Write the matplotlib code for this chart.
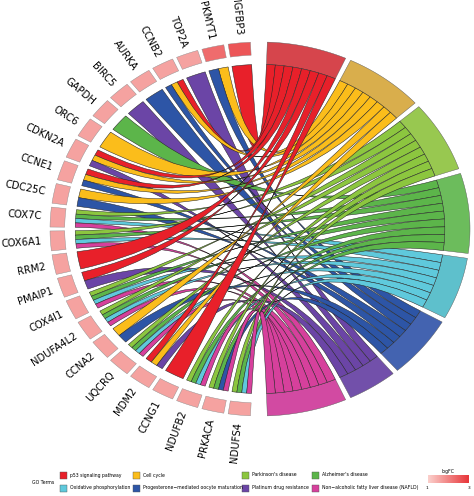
import numpy as np
import matplotlib
matplotlib.use("Agg")
import matplotlib.pyplot as plt
import matplotlib.patches as patches
from matplotlib.path import Path
from matplotlib.colors import LinearSegmentedColormap

genes = ["IGFBP3", "PKMYT1", "TOP2A", "CCNB2", "AURKA", "BIRC5", "GAPDH", "ORC6",
         "CDKN2A", "CCNE1", "CDC25C", "COX7C", "COX6A1", "RRM2", "PMAIP1", "COX4I1",
         "NDUFA4L2", "CCNA2", "UQCRQ", "MDM2", "CCNG1", "NDUFB2", "PRKACA", "NDUFS4"]
logfc = [2.6, 2.3, 1.6, 1.6, 1.6, 1.6, 1.6, 1.6, 1.6, 1.6, 1.6, 1.6, 1.6, 1.6, 1.6,
         1.6, 1.6, 1.6, 1.6, 1.6, 1.6, 1.6, 1.6, 1.6]
terms = ["p53 signaling pathway", "Cell cycle", "Parkinson's disease", "Alzheimer's disease",
         "Oxidative phosphorylation", "Progesterone\u2212mediated oocyte maturation",
         "Platinum drug resistance", "Non\u2212alcoholic fatty liver disease (NAFLD)"]
term_colors = ["#e8202a", "#fbbd1b", "#8cc63f", "#5cb54a", "#5fc9dc", "#2d55a6", "#6b45a6", "#d6409c"]
band_colors = ["#d6454c", "#d9ae4c", "#98c850", "#6cbc5c", "#5ec0cc", "#4363b0", "#7250aa", "#d24aa2"]
# term indices per gene
links = {
    "IGFBP3": [0], "PKMYT1": [1, 5], "TOP2A": [6], "CCNB2": [0, 1, 5], "AURKA": [5],
    "BIRC5": [6], "GAPDH": [3], "ORC6": [1], "CDKN2A": [0, 1, 6], "CCNE1": [0, 1, 5],
    "CDC25C": [1, 5], "COX7C": [2, 3, 4, 7], "COX6A1": [2, 3, 4, 7], "RRM2": [0],
    "PMAIP1": [0, 6], "COX4I1": [2, 3, 4, 7], "NDUFA4L2": [2, 3, 4, 7], "CCNA2": [1, 5],
    "UQCRQ": [2, 3, 4, 7], "MDM2": [0, 1, 6], "CCNG1": [0], "NDUFB2": [2, 3, 4, 7],
    "PRKACA": [2, 3, 5, 7], "NDUFS4": [2, 3, 4, 7],
}

W, H = 474, 496
cx, cy, rx, ry = 260, 229, 210, 187

fig = plt.figure(figsize=(W / 100, H / 100), dpi=100)
ax = fig.add_axes([0, 0, 1, 1])
ax.axis("off")


def pt(r, th):
    t = np.radians(th)
    return cx + rx * r * np.sin(t), cy - ry * r * np.cos(t)


def arc(r, a, b, n=30):
    return [pt(r, t) for t in np.linspace(a, b, n)]


def wedge(r0, r1, a, b, fc, ec="none", lw=0):
    verts = arc(r1, a, b) + arc(r0, b, a)
    ax.add_patch(patches.Polygon(verts, closed=True, fc=fc, ec=ec, lw=lw))


# angular layout
g_start, g_end = -2.0, -178.0
g_step = (g_end - g_start) / len(genes)
gap = 1.2
t_start, t_end, t_gap = 2.0, 178.0, 1.5
counts = [sum(i in v for v in links.values()) for i in range(len(terms))]
total = sum(counts)
t_span = (t_end - t_start - t_gap * (len(terms) - 1)) / total
t_bounds = []
a = t_start
for c in counts:
    t_bounds.append((a, a + c * t_span))
    a += c * t_span + t_gap

cmap = LinearSegmentedColormap.from_list("fc", ["#fbd0cc", "#e8363a"])

# gene boxes and labels
for i, g in enumerate(genes):
    a0 = g_start + i * g_step - gap / 2
    a1 = g_start + (i + 1) * g_step + gap / 2
    wedge(0.93, 1.0, a0, a1, cmap((logfc[i] - 1) / 2), ec="#8a8a8a", lw=0.3)
    mid = (a0 + a1) / 2
    x, y = pt(1.04, mid)
    phi = np.degrees(np.arctan2(-(y - cy) / ry, (x - cx) / rx))
    ax.text(x, y, g, rotation=phi - 180, rotation_mode="anchor", ha="right",
            va="center", fontsize=7.2, family="DejaVu Sans")

# term bands
for k, (a0, a1) in enumerate(t_bounds):
    wedge(0.88, 1.0, a0, a1, band_colors[k], ec="#555555", lw=0.3)

# ribbons
term_pos = [0] * len(terms)
ribbons = []
for i, g in enumerate(genes):
    a0 = g_start + i * g_step - gap / 2
    a1 = g_start + (i + 1) * g_step + gap / 2
    ts = links[g]
    sub = (a1 - a0) / len(ts)
    for j, k in enumerate(ts):
        ga, gb = a0 + j * sub, a0 + (j + 1) * sub
        ta0, ta1 = t_bounds[k]
        w = (ta1 - ta0) / counts[k]
        tb = ta0 + term_pos[k] * w
        term_pos[k] += 1
        ribbons.append((ga, gb, tb, tb + w, k))

r_in = 0.88
for ga, gb, ta, tb, k in ribbons:
    v = arc(r_in, ga, gb, 12)
    codes = [Path.MOVETO] + [Path.LINETO] * (len(v) - 1)
    v += [(cx, cy), pt(r_in, ta)]
    codes += [Path.CURVE3, Path.CURVE3]
    tv = arc(r_in, ta, tb, 12)[1:]
    v += tv
    codes += [Path.LINETO] * len(tv)
    v += [(cx, cy), pt(r_in, ga)]
    codes += [Path.CURVE3, Path.CURVE3]
    ax.add_patch(patches.PathPatch(Path(v, codes), fc=term_colors[k], ec="#222222",
                                   lw=0.35))

# legend
ax.text(32, 482, "GO Terms", fontsize=3.3, va="center")
col_x = [60, 133, 242, 312]
row_y = [475, 488]
for k, name in enumerate(terms):
    x = col_x[k % 4]
    y = row_y[k // 4]
    ax.add_patch(patches.Rectangle((x, y - 3.5), 7, 7, fc=term_colors[k], ec="#555555", lw=0.3))
    ax.text(x + 10, y, name, fontsize=3.3, va="center")

# logFC colorbar
grad = np.linspace(0, 1, 100).reshape(1, -1)
ax.imshow(grad, cmap=cmap, extent=(428, 469, 483, 475), aspect="auto")
ax.text(448, 471, "logFC", fontsize=3.3, ha="center", va="center")
ax.text(427, 488, "1", fontsize=3.2, ha="center", va="center")
ax.text(469, 488, "3", fontsize=3.2, ha="center", va="center")
ax.set_xlim(0, W)
ax.set_ylim(H, 0)

fig.savefig("out.png", dpi=100)
